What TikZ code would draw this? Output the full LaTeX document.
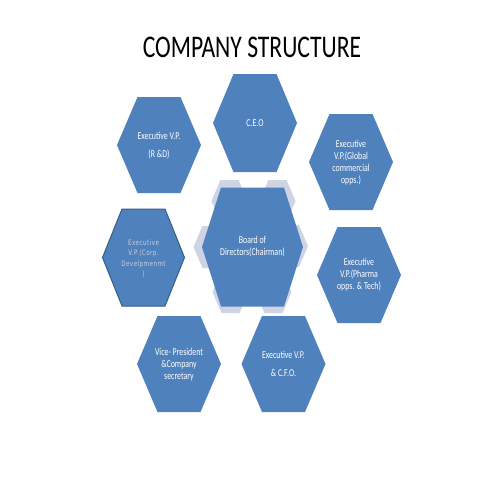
\documentclass[tikz,border=0pt]{standalone}
\usepackage{fontspec}
\usepackage{tikz}
\usetikzlibrary{positioning, calc}

\newfontfamily\slidefont[FakeStretch=0.75]{Carlito}
\newfontfamily\corpfont[FakeStretch=0.75,LetterSpace=6]{DejaVu Sans}

\definecolor{hexblue}{RGB}{79,129,189}
\definecolor{hexedge}{RGB}{56,93,138}
\definecolor{hexgrey}{RGB}{206,212,227}
\definecolor{corptext}{RGB}{198,208,228}

\tikzset{
  bluehex/.style={fill=hexblue, draw=none},
  greyhex/.style={fill=hexgrey, draw=none},
  hextext/.style={text=white, align=center, font=\slidefont\fontsize{10.5}{12}\selectfont},
}

\begin{document}
\begin{tikzpicture}[x=1pt,y=-1pt]
\useasboundingbox (0,0) rectangle (480,480);
\fill[white] (0,0) rectangle (480,480);

\node (title) at (252,47) {\slidefont\fontsize{31.5}{36}\selectfont COMPANY STRUCTURE};

% small grey hexagons round the board
\fill[greyhex] (229.5,201) ++(-18,0) -- ++(9,-21) -- ++(18,0) -- ++(9,21) -- ++(-9,21) -- ++(-18,0) -- cycle;
\fill[greyhex] (277.5,201) ++(-18,0) -- ++(9,-21) -- ++(18,0) -- ++(9,21) -- ++(-9,21) -- ++(-18,0) -- cycle;
\fill[greyhex] (211.5,247) ++(-18,0) -- ++(9,-21) -- ++(18,0) -- ++(9,21) -- ++(-9,21) -- ++(-18,0) -- cycle;
\fill[greyhex] (290,246) ++(-18,0) -- ++(9,-21) -- ++(18,0) -- ++(9,21) -- ++(-9,21) -- ++(-18,0) -- cycle;
\fill[greyhex] (230.5,292) ++(-18,0) -- ++(9,-21) -- ++(18,0) -- ++(9,21) -- ++(-9,21) -- ++(-18,0) -- cycle;
\fill[greyhex] (273.5,292) ++(-18,0) -- ++(9,-21) -- ++(18,0) -- ++(9,21) -- ++(-9,21) -- ++(-18,0) -- cycle;

% board
\fill[bluehex] (252.5,247) ++(-50.5,0) -- ++(19,-59.5) -- ++(63,0) -- ++(19,59.5) -- ++(-19,59.5) -- ++(-63,0) -- cycle;
\node[hextext] (board) at (252.5,247) {Board of\\Directors(Chairman)};

% outer hexagons
\fill[bluehex] (255,123) ++(-42,0) -- ++(20.5,-49) -- ++(43,0) -- ++(20.5,49) -- ++(-20.5,49) -- ++(-43,0) -- cycle;
\node[hextext] (ceo) at (255,123) {C.E.O};

\fill[bluehex] (159,145) ++(-42,0) -- ++(20.5,-48) -- ++(43,0) -- ++(20.5,48) -- ++(-20.5,48) -- ++(-43,0) -- cycle;
\node[hextext] (rnd) at (159,146) {Executive V.P.\\[6pt](R \&D)};

\fill[bluehex] (351,162) ++(-42,0) -- ++(20.5,-48) -- ++(43,0) -- ++(20.5,48) -- ++(-20.5,48) -- ++(-43,0) -- cycle;
\node[hextext] (global) at (351,163) {Executive\\V.P.(Global\\commercial\\opps.)};

\draw[fill=hexblue, draw=hexedge, line width=1pt] (143.5,257.5) ++(-41,0) -- ++(19.5,-48.5) -- ++(43,0) -- ++(19.5,48.5) -- ++(-19.5,48.5) -- ++(-43,0) -- cycle;
\node[text=corptext, align=center, font=\corpfont\fontsize{7.5}{10.5}\selectfont] (corp) at (143.5,258.5) {Executive\\V.P.(Corp.\\Develpmenmt\\)};

\fill[bluehex] (359,275) ++(-42,0) -- ++(20.5,-48) -- ++(43,0) -- ++(20.5,48) -- ++(-20.5,48) -- ++(-43,0) -- cycle;
\node[hextext] (pharma) at (359,275) {Executive\\V.P.(Pharma\\opps. \& Tech)};

\fill[bluehex] (179,364) ++(-42,0) -- ++(20.5,-48) -- ++(43,0) -- ++(20.5,48) -- ++(-20.5,48) -- ++(-43,0) -- cycle;
\node[hextext] (vice) at (179,364.5) {Vice- President\\\&Company\\secretary};

\fill[bluehex] (283.5,364) ++(-42,0) -- ++(20.5,-48) -- ++(43,0) -- ++(20.5,48) -- ++(-20.5,48) -- ++(-43,0) -- cycle;
\node[hextext] (cfo) at (283.5,364) {Executive V.P.\\[6pt]\& C.F.O.};

\end{tikzpicture}
\end{document}
